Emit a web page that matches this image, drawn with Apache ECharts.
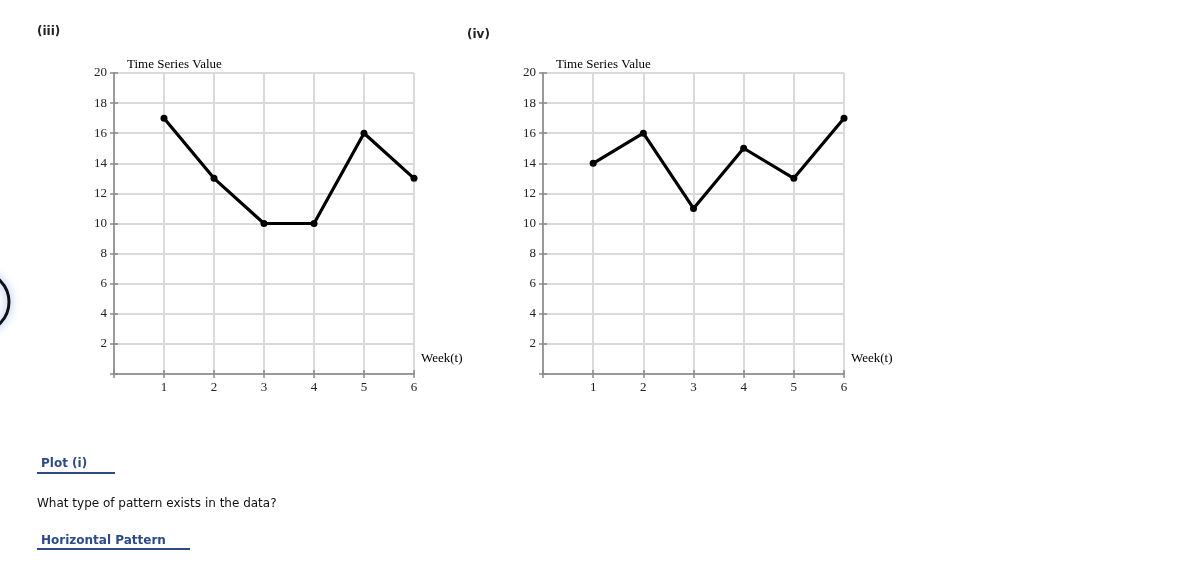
<!DOCTYPE html>
<html><head><meta charset="utf-8">
<script src="https://cdn.jsdelivr.net/npm/echarts@6/dist/echarts.min.js"></script>
<style>html,body{margin:0;padding:0;background:#fff}#c{width:1199px;height:565px}</style>
</head><body><div id="c"></div>
<script>
const weeks = [1, 2, 3, 4, 5, 6];
const seriesIII = [17, 13, 10, 10, 16, 13];
const seriesIV = [14, 16, 11, 15, 13, 17];
const yTicks = [0, 20, 2];   // min, max, interval
const xTicks = [0, 6, 1];
const panelLabels = ['(iii)', '(iv)'];
const yName = 'Time Series Value';
const xName = 'Week(t)';
const question = 'What type of pattern exists in the data?';
const plotLabel = 'Plot (i)';
const answer = 'Horizontal Pattern';

const serif = 'Liberation Serif';
const grids = [
  {left: 114, top: 73, width: 300, height: 301},
  {left: 543, top: 73, width: 301, height: 301}
];
function xAx(g, main) {
  return {
    type: 'value', gridIndex: g, min: xTicks[0], max: xTicks[1], interval: xTicks[2],
    position: 'bottom',
    name: main ? xName : '', nameLocation: 'end', nameGap: 7,
    nameTextStyle: {fontFamily: serif, fontSize: 13, color: '#000', align: 'left', verticalAlign: 'bottom', padding: [0,0,9,0]},
    axisLine: {show: main, lineStyle: {color: '#9a9a9a', width: 2}},
    axisTick: {show: true, inside: !main, length: 4, lineStyle: {color: '#8a8a8a', width: 1.5}},
    axisLabel: {show: main, margin: 7, fontFamily: serif, fontSize: 13, color: '#222',
      formatter: v => v === 0 ? '' : String(v)},
    splitLine: {show: main, lineStyle: {color: '#dadada', width: 2}}
  };
}
function yAx(g, main) {
  return {
    type: 'value', gridIndex: g, min: yTicks[0], max: yTicks[1], interval: yTicks[2],
    position: 'left',
    name: main ? yName : '', nameLocation: 'end', nameGap: 2,
    nameTextStyle: {fontFamily: serif, fontSize: 13, color: '#000', align: 'left', padding: [0,0,0,13]},
    axisLine: {show: main, lineStyle: {color: '#9a9a9a', width: 2}},
    axisTick: {show: true, inside: !main, length: 4, lineStyle: {color: '#8a8a8a', width: 1.5}},
    axisLabel: {show: main, margin: 7, fontFamily: serif, fontSize: 13, color: '#222',
      formatter: v => v === 0 ? '' : String(v)},
    splitLine: {show: main, lineStyle: {color: '#dadada', width: 2}}
  };
}
function lineSeries(idx, vals) {
  return {
    type: 'line', xAxisIndex: idx * 2, yAxisIndex: idx * 2,
    data: weeks.map((w, i) => [w, vals[i]]),
    symbol: 'circle', symbolSize: 7, clip: true,
    lineStyle: {color: '#000', width: 3.2},
    itemStyle: {color: '#000'},
    animation: false, z: 5
  };
}
const chart = echarts.init(document.getElementById('c'));
chart.setOption({
  animation: false,
  grid: grids,
  xAxis: [xAx(0, true), xAx(0, false), xAx(1, true), xAx(1, false)],
  yAxis: [yAx(0, true), yAx(0, false), yAx(1, true), yAx(1, false)],
  series: [lineSeries(0, seriesIII), lineSeries(1, seriesIV)],
  graphic: [
    {type: 'text', left: 37, top: 26, style: {text: panelLabels[0], font: 'bold 12px "DejaVu Sans"', fill: '#222'}},
    {type: 'text', left: 467, top: 29, style: {text: panelLabels[1], font: 'bold 12px "DejaVu Sans"', fill: '#222'}},
    {type: 'circle', shape: {cx: -21, cy: 302, r: 30},
      style: {fill: 'none', stroke: '#111', lineWidth: 3, shadowBlur: 8, shadowColor: 'rgba(90,140,255,0.8)'}},
    {type: 'text', left: 41, top: 458, style: {text: plotLabel, font: 'bold 12px "DejaVu Sans"', fill: '#2d4a87'}},
    {type: 'rect', shape: {x: 37, y: 472, width: 78, height: 2}, style: {fill: '#2d4a87'}},
    {type: 'text', left: 37, top: 498, style: {text: question, font: '12px "DejaVu Sans"', fill: '#111'}},
    {type: 'text', left: 41, top: 535, style: {text: answer, font: 'bold 12px "DejaVu Sans"', fill: '#2d4a87'}},
    {type: 'rect', shape: {x: 37, y: 548, width: 153, height: 2}, style: {fill: '#2d4a87'}}
  ]
});
</script>
</body></html>
